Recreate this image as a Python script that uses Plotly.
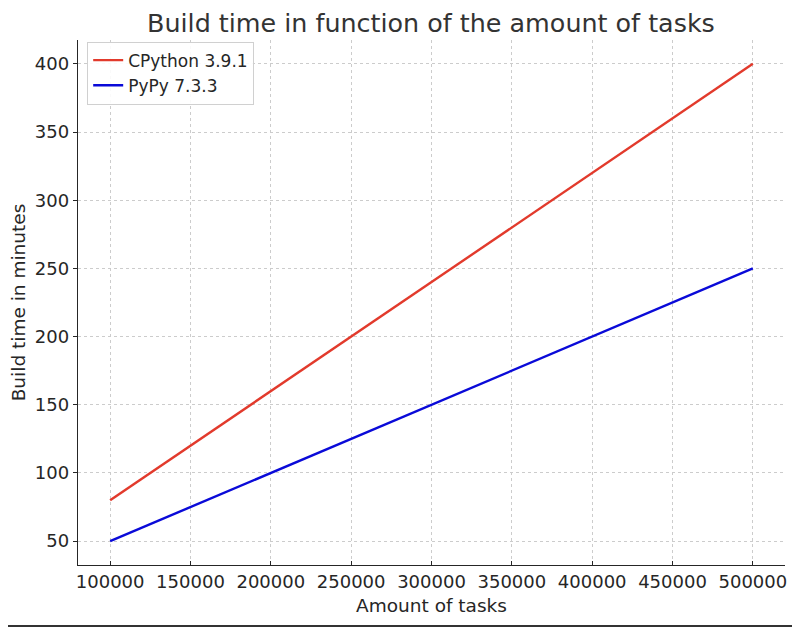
import plotly.graph_objects as go

# data
tasks = [100000, 200000, 300000, 400000, 500000]
cpython_minutes = [80, 160, 240, 320, 400]
pypy_minutes = [50, 100, 150, 200, 250]

x_ticks = [100000, 150000, 200000, 250000, 300000, 350000, 400000, 450000, 500000]
y_ticks = [50, 100, 150, 200, 250, 300, 350, 400]

FONT = "DejaVu Sans"
TEXT = "#262626"

fig = go.Figure()
fig.add_trace(go.Scatter(x=tasks, y=cpython_minutes, mode="lines", name="CPython 3.9.1",
                         line=dict(color="#e23a2c", width=2.4)))
fig.add_trace(go.Scatter(x=tasks, y=pypy_minutes, mode="lines", name="PyPy 7.3.3",
                         line=dict(color="#0a0ad8", width=2.4)))

axis_common = dict(
    showline=True, linecolor="#262626", linewidth=1.4,
    ticklen=4, tickcolor="#262626",
    showgrid=True, gridcolor="#cccccc", griddash="3px,3px", gridwidth=1,
    zeroline=False, tickfont=dict(family=FONT, size=18, color=TEXT),
    mirror=False, automargin=False,
)

fig.update_xaxes(range=[80000, 520000], tickvals=x_ticks, ticktext=[str(v) for v in x_ticks],
                 ticks="inside",
                 title=dict(text="Amount of tasks", font=dict(family=FONT, size=18.5, color=TEXT), standoff=8),
                 **axis_common)
fig.update_yaxes(range=[32.5, 417.5], tickvals=y_ticks, ticks="outside",
                 title=dict(text="Build time in minutes", font=dict(family=FONT, size=18.5, color=TEXT), standoff=10),
                 **axis_common)

# the page body adds an 8px margin, so the figure is sized to fit inside it
fig.update_layout(
    width=792, height=620,
    plot_bgcolor="white", paper_bgcolor="white",
    margin=dict(l=70, r=15, t=32, b=63),
    title=dict(text="Build time in function of the amount of tasks", x=0.534, xanchor="center",
               y=0.976, yanchor="middle", font=dict(family=FONT, size=25.4, color="#333333")),
    legend=dict(x=0.013, y=0.997, xanchor="left", yanchor="top",
                bgcolor="rgba(255,255,255,0.9)", bordercolor="#d0d0d0", borderwidth=1,
                font=dict(family=FONT, size=17, color=TEXT)),
    showlegend=True,
)

# dark rule along the bottom edge of the picture
fig.add_shape(type="line", xref="paper", yref="paper", x0=-0.12, x1=1.03, y0=-0.116, y1=-0.116,
              line=dict(color="#333333", width=2))

fig.write_html("out.html")
